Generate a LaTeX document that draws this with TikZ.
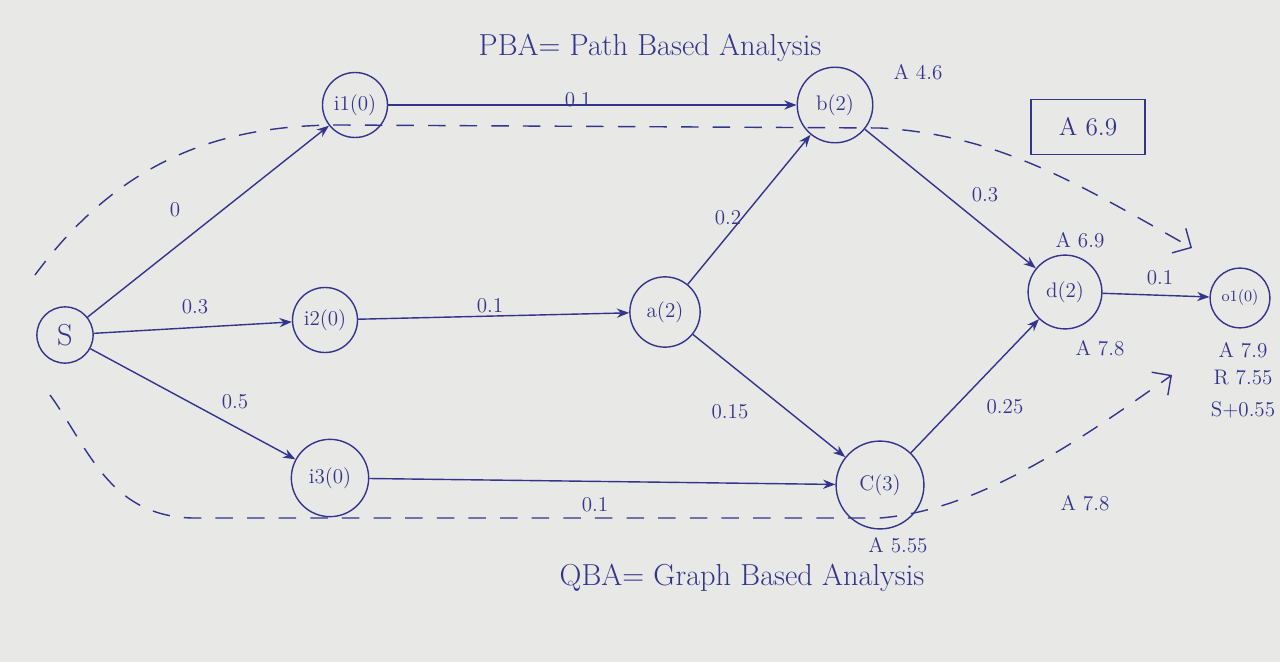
\documentclass[tikz,border=0pt]{standalone}
\usetikzlibrary{arrows.meta}
\definecolor{ink}{RGB}{52,52,140}
\definecolor{paper}{RGB}{232,232,230}
\begin{document}
\begin{tikzpicture}[x=0.02cm,y=-0.02cm,
  nd/.style={draw=ink,circle,thick,text=ink,inner sep=0pt,font=\large},
  ed/.style={draw=ink,thick,-{Stealth[length=7pt]}},
  lb/.style={text=ink,font=\large},
  dsh/.style={draw=ink,thick,dash pattern=on 10pt off 8pt}]
\fill[paper] (0,0) rectangle (1280,662);
\useasboundingbox (0,0) rectangle (1280,662);
\node[nd,minimum size=32pt,font=\LARGE] (S) at (65,335) {S};
\node[nd,minimum size=37pt] (i1) at (355,105) {i1(0)};
\node[nd,minimum size=43pt] (b) at (835,105) {b(2)};
\node[nd,minimum size=37pt] (i2) at (325,320) {i2(0)};
\node[nd,minimum size=40pt] (a) at (665,312) {a(2)};
\node[nd,minimum size=44pt] (i3) at (330,478) {i3(0)};
\node[nd,minimum size=50pt] (c) at (880,485) {C(3)};
\node[nd,minimum size=42pt] (d) at (1065,292) {d(2)};
\node[nd,minimum size=34pt,font=\small] (o) at (1240,298) {o1(0)};
\draw[ed] (S) -- (i1); \draw[ed] (S) -- (i2); \draw[ed] (S) -- (i3);
\draw[ed] (i1) -- (b); \draw[ed] (i2) -- (a); \draw[ed] (i3) -- (c);
\draw[ed] (a) -- (b); \draw[ed] (a) -- (c);
\draw[ed] (b) -- (d); \draw[ed] (c) -- (d); \draw[ed] (d) -- (o);
\node[lb] (l1) at (175,210) {0};
\node[lb] (l2) at (195,307) {0.3};
\node[lb] (l3) at (235,402) {0.5};
\node[lb] (l4) at (578,100) {0.1};
\node[lb] (l5) at (490,306) {0.1};
\node[lb] (l6) at (595,505) {0.1};
\node[lb] (l7) at (728,218) {0.2};
\node[lb] (l8) at (730,412) {0.15};
\node[lb] (l9) at (985,195) {0.3};
\node[lb] (l10) at (1005,407) {0.25};
\node[lb] (l11) at (1160,278) {0.1};
\node[lb,font=\LARGE] (t1) at (650,48) {PBA= Path Based Analysis};
\node[lb,font=\LARGE] (t2) at (742,578) {QBA= Graph Based Analysis};
\node[lb] (a1) at (918,72) {A 4.6};
\node[lb,draw=ink,thick,font=\Large,minimum width=65pt,minimum height=31pt] (a2) at (1088,127) {A 6.9};
\node[lb] (a3) at (1080,240) {A 6.9};
\node[lb] (a4) at (1100,348) {A 7.8};
\node[lb] (a5) at (1243,350) {A 7.9};
\node[lb] (a6) at (1243,378) {R 7.55};
\node[lb] (a7) at (1243,410) {S+0.55};
\node[lb] (a8) at (1085,503) {A 7.8};
\node[lb] (a9) at (898,545) {A 5.55};
\coordinate (u0) at (35,275); \coordinate (u1) at (1192,248);
\coordinate (w0) at (50,395); \coordinate (w1) at (1172,375);
\draw[dsh,-{Straight Barb[length=8pt]}] (u0) .. controls (120,160) and (220,125) .. (340,125)
  -- (880,128) .. controls (1000,135) and (1080,185) .. (u1);
\draw[dsh,-{Straight Barb[length=8pt]}] (w0) .. controls (90,450) and (110,520) .. (200,518)
  -- (880,518) .. controls (980,510) and (1080,440) .. (w1);
\end{tikzpicture}
\end{document}
